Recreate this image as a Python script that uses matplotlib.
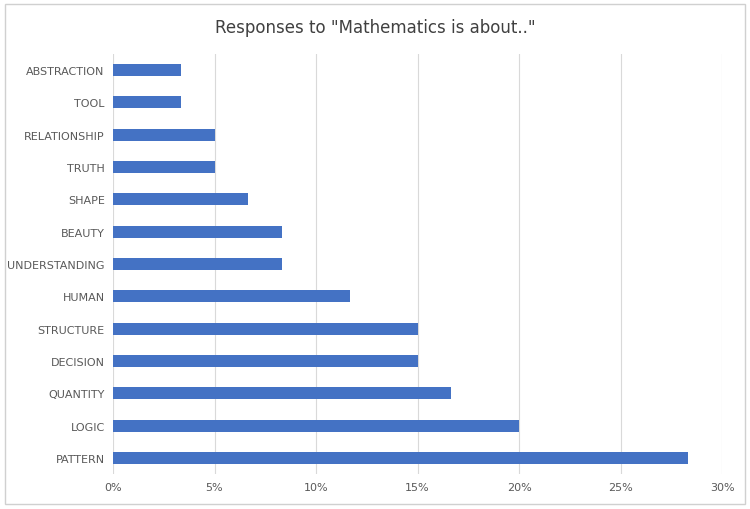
import matplotlib
matplotlib.use("Agg")
import matplotlib.pyplot as plt
from matplotlib.patches import Rectangle
import numpy as np

categories = ["PATTERN", "LOGIC", "QUANTITY", "DECISION", "STRUCTURE", "HUMAN",
              "UNDERSTANDING", "BEAUTY", "SHAPE", "TRUTH", "RELATIONSHIP", "TOOL",
              "ABSTRACTION"]
counts = [17, 12, 10, 9, 9, 7, 5, 5, 4, 3, 3, 2, 2]
total = 60
shares = [c / total for c in counts]

fig = plt.figure(figsize=(7.5, 5.1), dpi=100)
ax = fig.add_axes([113 / 750, 35 / 510, 609 / 750, 420 / 510])
fig.patches.append(Rectangle((5 / 750, 5 / 510), 740 / 750, 500 / 510, transform=fig.transFigure,
                             fill=False, edgecolor="#d0d0d0", linewidth=1))

y = np.arange(len(categories))
ax.barh(y, shares, height=0.37, color="#4472C4", zorder=3)
ax.set_yticks(y)
ax.set_yticklabels(categories, fontsize=8, color="#595959")
ax.set_ylim(-0.5, len(categories) - 0.5)
ax.set_xlim(0, 0.30)
ax.set_xticks(np.arange(0, 0.31, 0.05))
ax.set_xticklabels([f"{int(round(t * 100))}%" for t in np.arange(0, 0.31, 0.05)],
                   fontsize=8, color="#595959")
ax.grid(axis="x", color="#d9d9d9", linewidth=0.8, zorder=0)
ax.tick_params(length=0, pad=6)
for s in ax.spines.values():
    s.set_visible(False)
fig.text(0.5, 0.945, 'Responses to "Mathematics is about.."', ha="center", va="center",
         fontsize=12, color="#404040")
fig.savefig("out.png", dpi=100)
